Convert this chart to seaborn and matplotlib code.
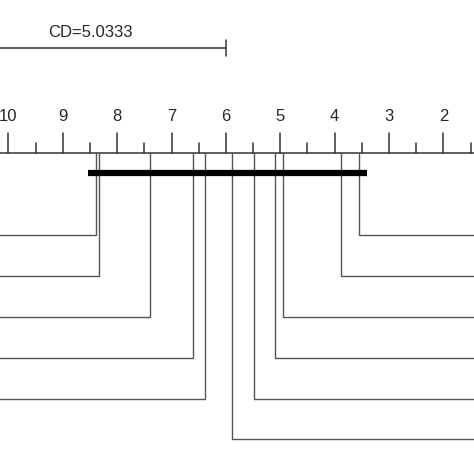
import matplotlib
matplotlib.use("Agg")
import matplotlib.pyplot as plt
import seaborn as sns
import numpy as np

sns.set_style("white")
plt.rcParams['font.family'] = ['Liberation Sans', 'DejaVu Sans']

left_ranks = [8.38, 8.33, 7.39, 6.605, 6.39]
right_ranks = [3.56, 3.89, 4.95, 5.097, 5.489, 5.888]
cd = 5.0333
bar_span = [8.53, 3.40]
tick_vals = [10, 9, 8, 7, 6, 5, 4, 3, 2]

fig = plt.figure(figsize=(4.74, 4.74), dpi=100)
ax = fig.add_axes([0, 0, 1, 1])
ax.set_xlim(10.153, 1.439)
ax.set_ylim(474, 0)
ax.axis('off')

axis_y = 152.5
lc = '#555555'
ax.plot([10.153, 1.439], [axis_y, axis_y], color='#333333', lw=1.1)
for t in np.arange(1.5, 10.5, 0.5):
    major = float(t).is_integer()
    ax.plot([t, t], [axis_y, 133 if major else 143], color='#333333', lw=1.1)
for t in tick_vals:
    ax.text(t, 116, str(t), ha='center', va='center', fontsize=12)

cd_right = 5.9996
ax.plot([cd_right + cd, cd_right], [48, 48], color='#333333', lw=1.1)
ax.plot([cd_right, cd_right], [40, 56], color='#333333', lw=1.1)
ax.text(8.50, 32, f"CD={cd}", ha='center', va='center', fontsize=12)

levels = [235, 276, 317, 358, 399, 439]
for r, y in zip(left_ranks, levels):
    sns.lineplot(x=[r, r, 10.4], y=[axis_y, y, y], sort=False, ax=ax, color=lc, lw=1.0, estimator=None)
for r, y in zip(right_ranks, levels):
    sns.lineplot(x=[r, r, 1.2], y=[axis_y, y, y], sort=False, ax=ax, color=lc, lw=1.0, estimator=None)

ax.plot(bar_span, [173, 173], color='black', lw=4.5, solid_capstyle='butt')
ax.set_xlim(10.153, 1.439)
ax.set_ylim(474, 0)
fig.savefig("out.png", dpi=100)
